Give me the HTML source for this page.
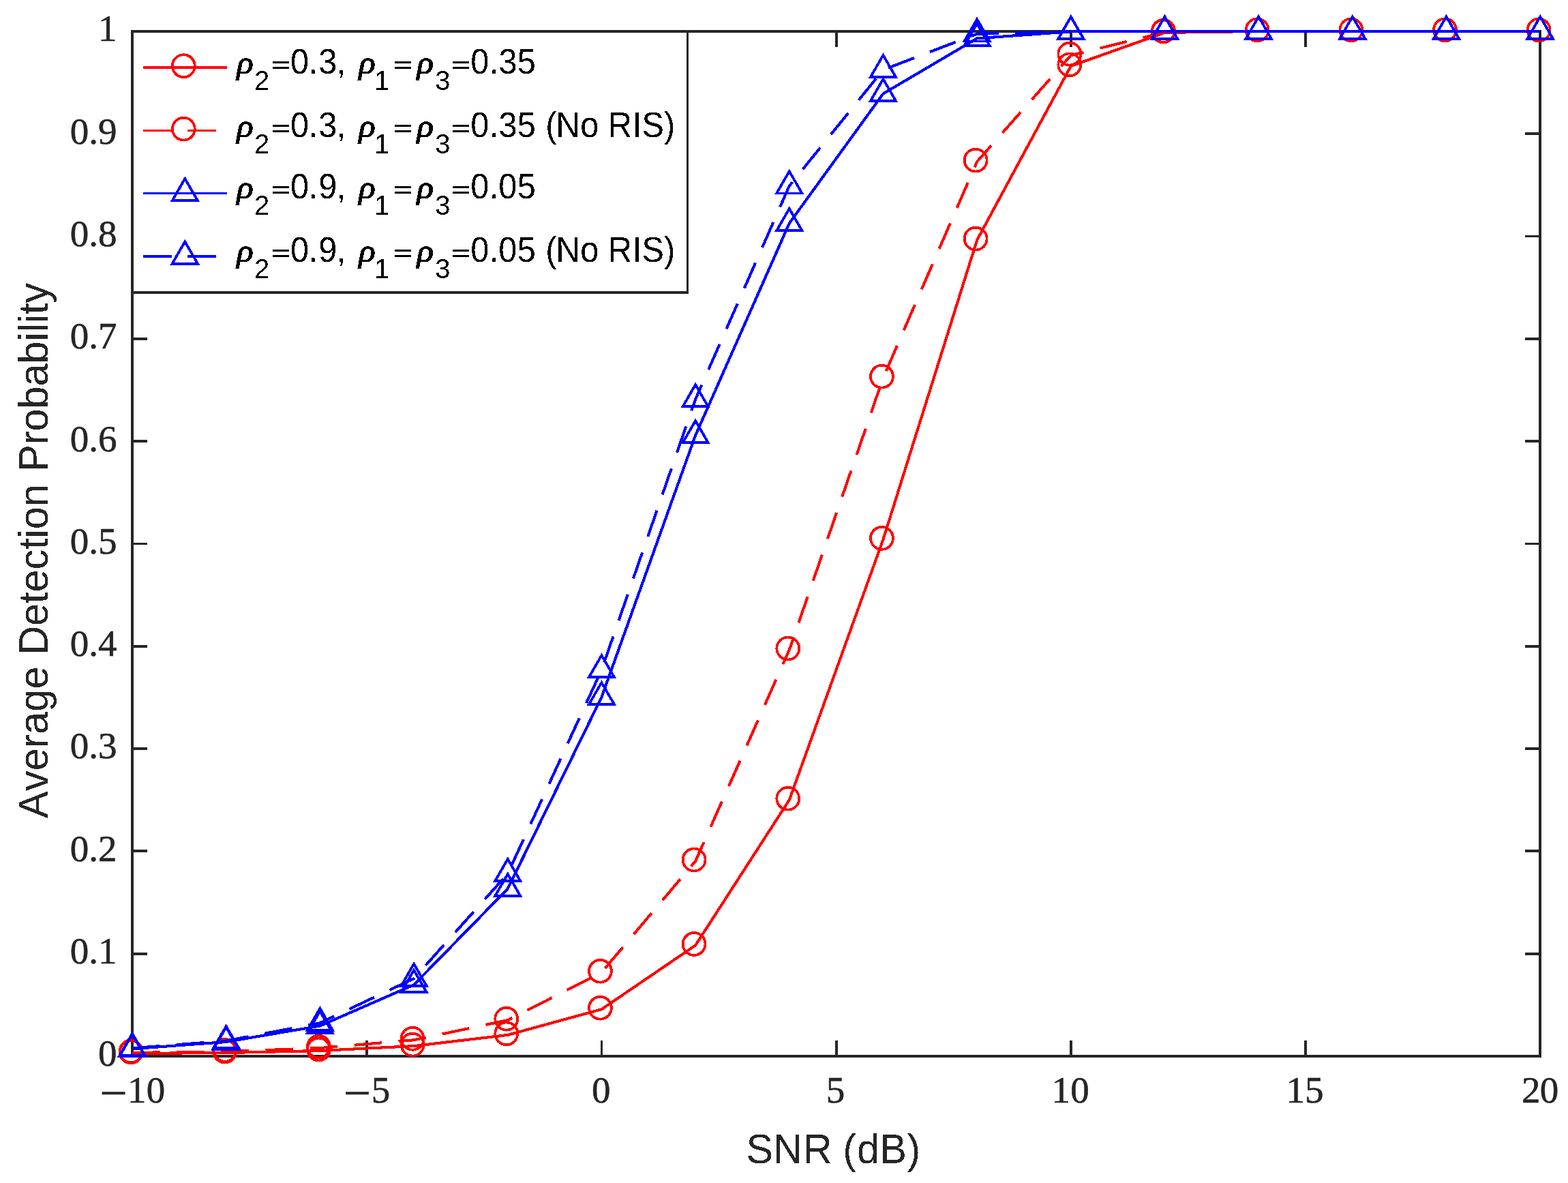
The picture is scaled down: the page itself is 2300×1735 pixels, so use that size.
<!DOCTYPE html>
<html lang="en"><head><meta charset="utf-8"><title>Average Detection Probability vs SNR (dB)</title>
<style>html,body{margin:0;padding:0;background:#fff}body{width:2300px;height:1735px;overflow:hidden}svg{display:block}text{white-space:pre}.tk{font-family:"Liberation Serif",serif;font-size:55px;fill:#262626;stroke:#262626;stroke-width:.6px;stroke-linejoin:round}.al{font-family:"Liberation Sans",sans-serif;font-size:62px;fill:#262626}.lg{font-family:"Liberation Sans",sans-serif;font-size:51px;fill:#000}.eq{stroke:#000;stroke-width:.45px}.rh{font-family:"Liberation Serif",serif;font-style:italic;stroke:#000;stroke-width:1.2px}.mk{fill:none;stroke-width:3.8;stroke-linejoin:miter;stroke-miterlimit:10}.ln{fill:none;stroke-width:4.1;stroke-linejoin:round;stroke-linecap:butt}</style></head><body>
<svg width="2300" height="1735" viewBox="0 0 2300 1735" shape-rendering="crispEdges" role="img" aria-label="Average Detection Probability versus SNR">
<defs><filter id="bin" x="-2%" y="-10%" width="104%" height="120%" color-interpolation-filters="sRGB"><feComponentTransfer><feFuncA type="discrete" tableValues="0 1"/></feComponentTransfer></filter></defs>
<rect width="2300" height="1735" fill="#fff"/>
<g stroke="#262626" stroke-width="3.8" fill="none">
<rect x="194.05" y="45.9" width="2065.15" height="1503"/>
<path d="M194.05 1548.9v-23M194.05 45.9v23M538.24 1548.9v-23M538.24 45.9v23M882.43 1548.9v-23M882.43 45.9v23M1226.62 1548.9v-23M1226.62 45.9v23M1570.82 1548.9v-23M1570.82 45.9v23M1915.01 1548.9v-23M1915.01 45.9v23M2259.2 1548.9v-23M2259.2 45.9v23M194.05 1548.9h22M2259.2 1548.9h-22M194.05 1398.6h22M2259.2 1398.6h-22M194.05 1248.3h22M2259.2 1248.3h-22M194.05 1098h22M2259.2 1098h-22M194.05 947.7h22M2259.2 947.7h-22M194.05 797.4h22M2259.2 797.4h-22M194.05 647.1h22M2259.2 647.1h-22M194.05 496.8h22M2259.2 496.8h-22M194.05 346.5h22M2259.2 346.5h-22M194.05 196.2h22M2259.2 196.2h-22M194.05 45.9h22M2259.2 45.9h-22"/>
</g>
<g class="tk">
<text><tspan x="146.3" y="1626.6" font-size="71.5" textLength="40.32" lengthAdjust="spacingAndGlyphs">−</tspan><tspan x="186.93 214.7" y="1617.4">10</tspan></text>
<text><tspan x="503.75" y="1626.6" font-size="71.5" textLength="40.32" lengthAdjust="spacingAndGlyphs">−</tspan><tspan x="544.73" y="1617.4">5</tspan></text>
<text><tspan x="868.1" y="1617.4">0</tspan></text>
<text><tspan x="1211.78" y="1617.4">5</tspan></text>
<text><tspan x="1542.43 1570.2" y="1617.4">10</tspan></text>
<text><tspan x="1886.58 1913.98" y="1617.4">15</tspan></text>
<text><tspan x="2231.91 2258.7" y="1617.4">20</tspan></text>
<text x="171.5" y="1563.3" text-anchor="end">0</text>
<text x="171.5" y="1413" text-anchor="end">0.1</text>
<text x="171.5" y="1262.7" text-anchor="end">0.2</text>
<text x="171.5" y="1112.4" text-anchor="end">0.3</text>
<text x="171.5" y="962.1" text-anchor="end">0.4</text>
<text x="171.5" y="811.8" text-anchor="end">0.5</text>
<text x="171.5" y="661.5" text-anchor="end">0.6</text>
<text x="171.5" y="511.2" text-anchor="end">0.7</text>
<text x="171.5" y="360.9" text-anchor="end">0.8</text>
<text x="171.5" y="210.6" text-anchor="end">0.9</text>
<text x="171.5" y="60.3" text-anchor="end">1</text>
</g>
<g class="al" filter="url(#bin)">
<text transform="translate(0 1705.9) scale(0.955 1)" x="1146.09 1187.65 1233.52 1264.52 1294.53 1316.34 1351.29 1393.25" y="0">SNR (dB)</text>
</g>
<g class="al" filter="url(#bin)">
<text transform="translate(70.1 0) rotate(-90) scale(0.959 1)" x="-1251.27 -1209.72 -1178.54 -1143.9 -1123.1 -1088.44 -1053.77 -1022.77 -1001.78 -957.14 -922.75 -905.62 -871.25 -840.34 -823.16 -809.47 -775.12 -744.12 -721.46 -680.17 -659.57 -625.16 -590.74 -556.33 -521.89 -508.14 -494.4 -480.65 -463.47" y="0">Average Detection Probability</text>
</g>
<g class="ln" stroke="#f00"><polyline points="194.05,1544.9 331.73,1544.05 469.4,1541 607.08,1534.1 744.76,1517.9 882.43,1480.2 1020.11,1386.45 1157.79,1173.15 1295.46,791.3 1433.14,352.1 1570.82,96.9 1708.49,47.9 1846.17,45.9 1983.85,45.9 2121.52,45.9 2259.2,45.9"/></g>
<g class="mk" stroke="#f00"><circle cx="192.05" cy="1542.9" r="16.45"/><circle cx="329.73" cy="1542.05" r="16.45"/><circle cx="467.4" cy="1539" r="16.45"/><circle cx="605.08" cy="1532.1" r="16.45"/><circle cx="742.76" cy="1515.9" r="16.45"/><circle cx="880.43" cy="1478.2" r="16.45"/><circle cx="1018.11" cy="1384.45" r="16.45"/><circle cx="1155.79" cy="1171.15" r="16.45"/><circle cx="1293.46" cy="789.3" r="16.45"/><circle cx="1431.14" cy="350.1" r="16.45"/><circle cx="1568.82" cy="94.9" r="16.45"/><circle cx="1706.49" cy="45.9" r="16.45"/><circle cx="1844.17" cy="43.9" r="16.45"/><circle cx="1981.85" cy="43.9" r="16.45"/><circle cx="2119.52" cy="43.9" r="16.45"/><circle cx="2257.2" cy="43.9" r="16.45"/></g>
<g class="ln" stroke="#f00"><polyline stroke-dasharray="40.55 24.62" points="194.05,1543.9 331.73,1542.3 469.4,1537 607.08,1525.3 744.76,1496.2 882.43,1426.2 1020.11,1263 1157.79,953.03 1295.46,554.15 1433.14,237.07 1570.82,81.1 1708.49,47.3 1846.17,45.9 1983.85,45.9 2121.52,45.9 2259.2,45.9"/></g>
<g class="mk" stroke="#f00"><circle cx="192.05" cy="1541.9" r="16.45"/><circle cx="329.73" cy="1540.3" r="16.45"/><circle cx="467.4" cy="1535" r="16.45"/><circle cx="605.08" cy="1523.3" r="16.45"/><circle cx="742.76" cy="1494.2" r="16.45"/><circle cx="880.43" cy="1424.2" r="16.45"/><circle cx="1018.11" cy="1261" r="16.45"/><circle cx="1155.79" cy="951.03" r="16.45"/><circle cx="1293.46" cy="552.15" r="16.45"/><circle cx="1431.14" cy="235.07" r="16.45"/><circle cx="1568.82" cy="79.1" r="16.45"/><circle cx="1706.49" cy="45.3" r="16.45"/><circle cx="1844.17" cy="43.9" r="16.45"/><circle cx="1981.85" cy="43.9" r="16.45"/><circle cx="2119.52" cy="43.9" r="16.45"/><circle cx="2257.2" cy="43.9" r="16.45"/></g>
<g class="ln" stroke="#00f"><polyline points="194.05,1538.25 331.73,1528 469.4,1504.55 607.08,1444.35 744.76,1303.4 882.43,1022.45 1020.11,638.5 1157.79,327.5 1295.46,137.4 1433.14,56.3 1570.82,46.3 1708.49,45.9 1846.17,45.9 1983.85,45.9 2121.52,45.9 2259.2,45.9"/></g>
<g class="mk" stroke="#00f"><path d="M194.05 1516.77L175.45 1548.99L212.65 1548.99Z"/><path d="M331.73 1506.52L313.13 1538.74L350.33 1538.74Z"/><path d="M469.4 1483.07L450.8 1515.29L488 1515.29Z"/><path d="M607.08 1422.87L588.48 1455.09L625.68 1455.09Z"/><path d="M744.76 1281.92L726.16 1314.14L763.36 1314.14Z"/><path d="M882.43 1000.97L863.83 1033.19L901.03 1033.19Z"/><path d="M1020.11 617.02L1001.51 649.24L1038.71 649.24Z"/><path d="M1157.79 306.02L1139.19 338.24L1176.39 338.24Z"/><path d="M1295.46 115.92L1276.86 148.14L1314.06 148.14Z"/><path d="M1433.14 34.82L1414.54 67.04L1451.74 67.04Z"/><path d="M1570.82 24.82L1552.22 57.04L1589.42 57.04Z"/><path d="M1708.49 24.42L1689.89 56.64L1727.09 56.64Z"/><path d="M1846.17 24.42L1827.57 56.64L1864.77 56.64Z"/><path d="M1983.85 24.42L1965.25 56.64L2002.45 56.64Z"/><path d="M2121.52 24.42L2102.92 56.64L2140.12 56.64Z"/><path d="M2259.2 24.42L2240.6 56.64L2277.8 56.64Z"/></g>
<g class="ln" stroke="#00f"><polyline stroke-dasharray="40.55 24.62" points="194.05,1537.3 331.73,1526.5 469.4,1500.3 607.08,1435.1 744.76,1281.4 882.43,982.55 1020.11,585.6 1157.79,272.7 1295.46,102.4 1433.14,49.7 1570.82,46.1 1708.49,45.9 1846.17,45.9 1983.85,45.9 2121.52,45.9 2259.2,45.9"/></g>
<g class="mk" stroke="#00f"><path d="M194.05 1515.82L175.45 1548.04L212.65 1548.04Z"/><path d="M331.73 1505.02L313.13 1537.24L350.33 1537.24Z"/><path d="M469.4 1478.82L450.8 1511.04L488 1511.04Z"/><path d="M607.08 1413.62L588.48 1445.84L625.68 1445.84Z"/><path d="M744.76 1259.92L726.16 1292.14L763.36 1292.14Z"/><path d="M882.43 961.07L863.83 993.29L901.03 993.29Z"/><path d="M1020.11 564.12L1001.51 596.34L1038.71 596.34Z"/><path d="M1157.79 251.22L1139.19 283.44L1176.39 283.44Z"/><path d="M1295.46 80.92L1276.86 113.14L1314.06 113.14Z"/><path d="M1433.14 28.22L1414.54 60.44L1451.74 60.44Z"/><path d="M1570.82 24.62L1552.22 56.84L1589.42 56.84Z"/><path d="M1708.49 24.42L1689.89 56.64L1727.09 56.64Z"/><path d="M1846.17 24.42L1827.57 56.64L1864.77 56.64Z"/><path d="M1983.85 24.42L1965.25 56.64L2002.45 56.64Z"/><path d="M2121.52 24.42L2102.92 56.64L2140.12 56.64Z"/><path d="M2259.2 24.42L2240.6 56.64L2277.8 56.64Z"/></g>
<rect x="194" y="46" width="814" height="383" fill="#fff"/>
<path d="M192 46H1010M194 44V431M192 429H1010" stroke="#262626" stroke-width="4" fill="none"/>
<path d="M1008.5 44V431" stroke="#262626" stroke-width="3" fill="none"/>
<path d="M210 98.9H333.2" stroke="#f00" stroke-width="3.5" fill="none"/>
<g class="mk" stroke="#f00"><circle cx="269.3" cy="96.7" r="16.45"/></g>
<g filter="url(#bin)"><text class="lg" transform="scale(0.952 1)"><tspan x="364.75" y="107.9" class="rh" font-size="48.5" textLength="25.68" lengthAdjust="spacingAndGlyphs">ρ</tspan><tspan x="391.89" y="131.7" font-size="40" textLength="23.37" lengthAdjust="spacingAndGlyphs">2</tspan><tspan x="417.95" y="106" class="eq" font-size="31.62" textLength="29.78" lengthAdjust="spacingAndGlyphs">=</tspan><tspan x="447.53 475.43 490.9 518.65 544.15" y="107.8">0.3, </tspan><tspan x="552.73" y="107.9" class="rh" font-size="48.5" textLength="25.68" lengthAdjust="spacingAndGlyphs">ρ</tspan><tspan x="576.66" y="131.7" font-size="40" textLength="23.37" lengthAdjust="spacingAndGlyphs">1</tspan><tspan x="605.97" y="106" class="eq" font-size="31.62" textLength="29.78" lengthAdjust="spacingAndGlyphs">=</tspan><tspan x="642.33" y="107.9" class="rh" font-size="48.5" textLength="25.68" lengthAdjust="spacingAndGlyphs">ρ</tspan><tspan x="670.37" y="131.7" font-size="40" textLength="23.37" lengthAdjust="spacingAndGlyphs">3</tspan><tspan x="695.2" y="106" class="eq" font-size="31.62" textLength="29.78" lengthAdjust="spacingAndGlyphs">=</tspan><tspan x="725 754.26 768.37 797" y="107.8">0.35</tspan></text></g>
<path d="M210 191.3H333.2" stroke="#f00" stroke-width="3.5" fill="none" stroke-dasharray="42 23.2"/>
<g class="mk" stroke="#f00"><circle cx="269.3" cy="189.1" r="16.45"/></g>
<g filter="url(#bin)"><text class="lg" transform="scale(0.952 1)"><tspan x="364.75" y="201.3" class="rh" font-size="48.5" textLength="25.68" lengthAdjust="spacingAndGlyphs">ρ</tspan><tspan x="391.89" y="225.1" font-size="40" textLength="23.37" lengthAdjust="spacingAndGlyphs">2</tspan><tspan x="417.95" y="199.4" class="eq" font-size="31.62" textLength="29.78" lengthAdjust="spacingAndGlyphs">=</tspan><tspan x="447.53 475.43 490.9 518.65 544.15" y="201.2">0.3, </tspan><tspan x="552.73" y="201.3" class="rh" font-size="48.5" textLength="25.68" lengthAdjust="spacingAndGlyphs">ρ</tspan><tspan x="576.66" y="225.1" font-size="40" textLength="23.37" lengthAdjust="spacingAndGlyphs">1</tspan><tspan x="605.97" y="199.4" class="eq" font-size="31.62" textLength="29.78" lengthAdjust="spacingAndGlyphs">=</tspan><tspan x="642.33" y="201.3" class="rh" font-size="48.5" textLength="25.68" lengthAdjust="spacingAndGlyphs">ρ</tspan><tspan x="670.37" y="225.1" font-size="40" textLength="23.37" lengthAdjust="spacingAndGlyphs">3</tspan><tspan x="695.2" y="199.4" class="eq" font-size="31.62" textLength="29.78" lengthAdjust="spacingAndGlyphs">=</tspan><tspan x="725 754.26 768.37 797 822.5 840.5 856.73 894.12 919.62 936.93 974.64 989.1 1023.24" y="201.2">0.35 (No RIS)</tspan></text></g>
<path d="M210 283.7H333.2" stroke="#00f" stroke-width="3.5" fill="none"/>
<g class="mk" stroke="#00f"><path d="M271.3 262.02L252.7 294.24L289.9 294.24Z"/></g>
<g filter="url(#bin)"><text class="lg" transform="scale(0.952 1)"><tspan x="364.75" y="290.8" class="rh" font-size="48.5" textLength="25.68" lengthAdjust="spacingAndGlyphs">ρ</tspan><tspan x="391.89" y="314.6" font-size="40" textLength="23.37" lengthAdjust="spacingAndGlyphs">2</tspan><tspan x="417.95" y="288.9" class="eq" font-size="31.62" textLength="29.78" lengthAdjust="spacingAndGlyphs">=</tspan><tspan x="447.53 475.43 490.77 518.65 544.15" y="290.7">0.9, </tspan><tspan x="552.73" y="290.8" class="rh" font-size="48.5" textLength="25.68" lengthAdjust="spacingAndGlyphs">ρ</tspan><tspan x="576.66" y="314.6" font-size="40" textLength="23.37" lengthAdjust="spacingAndGlyphs">1</tspan><tspan x="605.97" y="288.9" class="eq" font-size="31.62" textLength="29.78" lengthAdjust="spacingAndGlyphs">=</tspan><tspan x="642.33" y="290.8" class="rh" font-size="48.5" textLength="25.68" lengthAdjust="spacingAndGlyphs">ρ</tspan><tspan x="670.37" y="314.6" font-size="40" textLength="23.37" lengthAdjust="spacingAndGlyphs">3</tspan><tspan x="695.2" y="288.9" class="eq" font-size="31.62" textLength="29.78" lengthAdjust="spacingAndGlyphs">=</tspan><tspan x="725 754.26 768.22 797" y="290.7">0.05</tspan></text></g>
<path d="M210 376.1H333.2" stroke="#00f" stroke-width="3.5" fill="none" stroke-dasharray="42 23.2"/>
<g class="mk" stroke="#00f"><path d="M271.3 354.42L252.7 386.64L289.9 386.64Z"/></g>
<g filter="url(#bin)"><text class="lg" transform="scale(0.952 1)"><tspan x="364.75" y="384" class="rh" font-size="48.5" textLength="25.68" lengthAdjust="spacingAndGlyphs">ρ</tspan><tspan x="391.89" y="407.8" font-size="40" textLength="23.37" lengthAdjust="spacingAndGlyphs">2</tspan><tspan x="417.95" y="382.1" class="eq" font-size="31.62" textLength="29.78" lengthAdjust="spacingAndGlyphs">=</tspan><tspan x="447.53 475.43 490.77 518.65 544.15" y="383.9">0.9, </tspan><tspan x="552.73" y="384" class="rh" font-size="48.5" textLength="25.68" lengthAdjust="spacingAndGlyphs">ρ</tspan><tspan x="576.66" y="407.8" font-size="40" textLength="23.37" lengthAdjust="spacingAndGlyphs">1</tspan><tspan x="605.97" y="382.1" class="eq" font-size="31.62" textLength="29.78" lengthAdjust="spacingAndGlyphs">=</tspan><tspan x="642.33" y="384" class="rh" font-size="48.5" textLength="25.68" lengthAdjust="spacingAndGlyphs">ρ</tspan><tspan x="670.37" y="407.8" font-size="40" textLength="23.37" lengthAdjust="spacingAndGlyphs">3</tspan><tspan x="695.2" y="382.1" class="eq" font-size="31.62" textLength="29.78" lengthAdjust="spacingAndGlyphs">=</tspan><tspan x="725 754.26 768.22 797 822.5 840.5 856.73 894.12 919.62 936.93 974.64 989.1 1023.24" y="383.9">0.05 (No RIS)</tspan></text></g>
</svg></body></html>
